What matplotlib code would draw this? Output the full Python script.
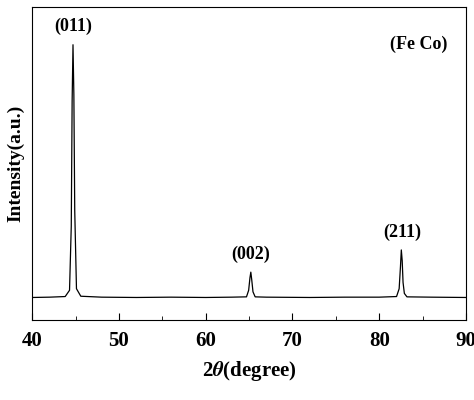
import matplotlib.pyplot as plt
from matplotlib.ticker import MultipleLocator

# XRD pattern (2theta in degree, intensity in arbitrary units)
two_theta = [40.0, 42.0, 43.8, 44.3, 44.5, 44.6, 44.7, 44.8, 44.9, 45.1, 45.6, 48.0,
             52.0, 56.0, 60.0, 63.0, 64.7, 64.95, 65.1, 65.2, 65.3, 65.45, 65.7, 67.0,
             72.0, 76.0, 80.0, 82.0, 82.3, 82.45, 82.55, 82.65, 82.75, 82.9, 83.2, 86.0, 90.0]
intensity = [7.2, 7.3, 7.5, 9.5, 30.0, 70.0, 88.0, 72.0, 35.0, 10.0, 7.6, 7.3,
             7.2, 7.3, 7.2, 7.3, 7.4, 9.5, 13.5, 15.3, 13.0, 9.0, 7.4, 7.3,
             7.2, 7.3, 7.3, 7.5, 10.0, 17.0, 22.4, 19.0, 12.0, 8.5, 7.4, 7.3, 7.2]

peak_labels = ["(011)", "(002)", "(211)"]
peak_pos = [44.7, 65.2, 82.6]
peak_top = [88.0, 15.3, 22.4]

plt.rcParams["font.family"] = ["Liberation Serif", "DejaVu Serif"]
plt.rcParams["font.weight"] = "bold"
plt.rcParams["mathtext.fontset"] = "stix"

fig = plt.figure(figsize=(4.74, 4.0), dpi=100)
ax = fig.add_axes([0.068, 0.2, 0.915, 0.782])
ax.plot(two_theta, intensity, color="black", lw=0.9)

for lab, x, y in zip(peak_labels, peak_pos, peak_top):
    ax.text(x, y + 3, lab, ha="center", va="bottom", fontsize=13, fontweight="bold")
ax.text(84.5, 88, "(Fe Co)", ha="center", va="center", fontsize=13, fontweight="bold")

ax.set_xlim(40, 90)
ax.set_ylim(0, 100)
ax.xaxis.set_major_locator(MultipleLocator(10))
ax.xaxis.set_minor_locator(MultipleLocator(5))
ax.tick_params(axis="x", which="both", direction="in", labelsize=15, pad=8)
ax.tick_params(axis="x", which="major", length=5)
ax.tick_params(axis="x", which="minor", length=3)
ax.set_yticks([])
for lbl in ax.get_xticklabels():
    lbl.set_fontweight("bold")
ax.set_xlabel(r"2$\theta$(degree)", fontsize=15, fontweight="bold", labelpad=6)
ax.set_ylabel("Intensity(a.u.)", fontsize=14, fontweight="bold", labelpad=6)

fig.savefig("out.png", dpi=100)
